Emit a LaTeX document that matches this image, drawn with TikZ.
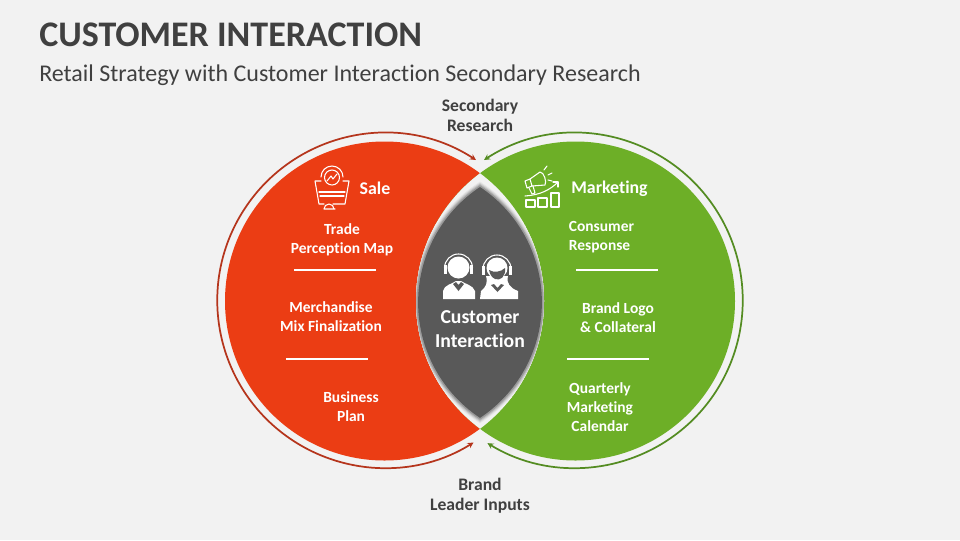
\documentclass[tikz,border=0pt]{standalone}
\usepackage{fontspec}
\setmainfont[Ligatures=CommonOff]{Carlito}
\usetikzlibrary{arrows.meta}
\definecolor{salered}{HTML}{EB3D14}
\definecolor{salearc}{HTML}{B5351C}
\definecolor{markgreen}{HTML}{6DAF27}
\definecolor{markarc}{HTML}{548C22}
\definecolor{lensgray}{HTML}{595959}
\definecolor{textgray}{HTML}{404040}
\definecolor{pagegray}{HTML}{F2F2F2}
\newcommand{\lenspath}{(480,187) arc[start angle=-56.4,end angle=56.4,radius=138.6] arc[start angle=123.6,end angle=236.4,radius=138.6] -- cycle}
\begin{document}
\begin{tikzpicture}[x=0.75pt,y=-0.75pt]
	\tikzstyle{every node}=[align=center,inner sep=0pt];
	\tikzstyle{bodytext}=[text=white,font=\fontsize{11.6pt}{14.3pt}\selectfont\bfseries];
	\tikzstyle{headtext}=[text=white,font=\fontsize{13.4pt}{15pt}\selectfont\bfseries];
	\tikzstyle{sidetext}=[text=textgray,font=\fontsize{13.2pt}{15.4pt}\selectfont\bfseries];
	\tikzstyle{sepline}=[draw=white,line width=1.1pt];
	\tikzstyle{iconline}=[draw=white,line width=0.8pt,line cap=round,line join=round];
	\tikzstyle{arcline}=[line width=1.3pt,{Stealth[length=4.5pt,width=4.5pt]}-{Stealth[length=4.5pt,width=4.5pt]}];
	\fill[pagegray] (0,0) rectangle (960,540);
	\useasboundingbox (0,0) rectangle (960,540);
	% titles
	\node[anchor=west,text=textgray,font=\fontsize{27pt}{30pt}\selectfont\bfseries] (title) at (39,35) {CUSTOMER INTERACTION};
	\node[anchor=west,text=textgray,font=\fontsize{18pt}{22pt}\selectfont] (subtitle) at (39,75) {Retail Strategy with Customer Interaction Secondary Research};
	% circles
	\fill[salered] (384.5,301) circle (159.5);
	\fill[markgreen] (575.5,301) circle (159.5);
	\begin{scope}
		\clip (384.5,301) circle (159.5);
		\clip (575.5,301) circle (159.5);
		\fill[pagegray] (300,100) rectangle (660,500);
		% middle lens
		\foreach \w/\c in {11/5,9/10,7/18,5/28,3/40}{
			\draw[draw=black!\c,line width=\w*0.75pt,line join=miter] \lenspath;
		}
	\end{scope}
	\fill[lensgray] \lenspath;
	% outer arcs
	\coordinate (saletop) at (476,160);
	\coordinate (marktop) at (484,160);
	\draw[arcline,draw=salearc] (saletop) arc[start angle=-57,end angle=-302,radius=167.5];
	\draw[arcline,draw=markarc] (marktop) arc[start angle=237,end angle=481.6,radius=167.5];
	% sale side
	\node[headtext] (sale) at (375,188.5) {Sale};
	\node[bodytext] (trade) at (342,240) {Trade\\Perception Map};
	\node[bodytext] (merch) at (331,316.5) {Merchandise\\Mix Finalization};
	\node[bodytext] (plan) at (351,406.5) {Business\\Plan};
	\coordinate (s1a) at (294,270);
	\coordinate (s1b) at (376,270);
	\coordinate (s2a) at (286,359);
	\coordinate (s2b) at (368,359);
	\draw[sepline] (s1a) -- (s1b);
	\draw[sepline] (s2a) -- (s2b);
	% marketing side
	\node[headtext] (marketing) at (609.5,188.5) {Marketing};
	\node[bodytext,align=left] (consumer) at (601.5,237.5) {Consumer\\Response};
	\node[bodytext] (logo) at (618,318) {Brand Logo\\\& Collateral};
	\node[bodytext] (calendar) at (600,407.5) {Quarterly\\Marketing\\Calendar};
	\coordinate (m1a) at (576,270);
	\coordinate (m1b) at (658,270);
	\coordinate (m2a) at (567,359);
	\coordinate (m2b) at (649,359);
	\draw[sepline] (m1a) -- (m1b);
	\draw[sepline] (m2a) -- (m2b);
	% middle and outside labels
	\node[text=white,font=\fontsize{14.8pt}{17.8pt}\selectfont\bfseries] (customer) at (480,329) {Customer\\Interaction};
	\node[sidetext] (secondary) at (480,115.5) {Secondary\\Research};
	\node[sidetext] (brand) at (480,495.5) {Brand\\Leader Inputs};
	% sale icon
	\draw[iconline] (332,177.5) circle (7.5);
	\draw[iconline] (321,177) arc[start angle=180,end angle=360,radius=11];
	\draw[iconline] (327,181) -- (331,176) -- (333,179) -- (337,174);
	\draw[iconline] (321,181) -- (315,181) -- (319,204) -- (324,204);
	\draw[iconline] (343,181) -- (349,181) -- (345,204) -- (333,204);
	\draw[iconline] (319,192) -- (345,192);
	\draw[iconline] (320,196) -- (344,196);
	\draw[iconline] (324,209) arc[start angle=180,end angle=360,radius=5] (324,209) -- (335,209);
	% marketing icon
	\draw[iconline] (526,200) rectangle (535,207);
	\draw[iconline] (538,198) rectangle (547,207);
	\draw[iconline] (551,193) rectangle (559,207);
	\draw[iconline] (525,196) .. controls (540,195) and (550,190) .. (558,182);
	\draw[iconline] (553,182) -- (558,182) -- (558,187);
	\draw[iconline] (525,181) -- (530,179) -- (532,186) -- (527,188) -- cycle;
	\draw[iconline] (530,179) -- (540,172) .. controls (544,172) and (547,182) .. (545,185) -- (532,186);
	\draw[iconline] (529,188) -- (532,194) -- (535,193) -- (533,186);
	\draw[iconline] (544,170) -- (547,166);
	\draw[iconline] (548,175) -- (552,173);
	\draw[iconline] (548,180) -- (552,181);
	% agents icon
	\fill[white] (458.5,267.5) circle (11);
	\fill[white] (443,299) -- (443,291) .. controls (444,285) and (452,284) .. (456,281) -- (461,281) .. controls (465,284) and (473,285) .. (475,291) -- (475,299) -- cycle;
	\fill[lensgray] (453,284) -- (458.5,291) -- (464,284) -- (461,282) -- (458.5,285) -- (456,282) -- cycle;
	\draw[white,line width=0.8pt] (444.5,268) arc[start angle=180,end angle=360,radius=14];
	\fill[white] (444,265) rectangle (447,274);
	\fill[white] (470,265) rectangle (473,274);
	\fill[white] (497,268) circle (10.5);
	\fill[white] (480,299) -- (481,291) .. controls (486,287) and (488,283) .. (486,276) -- (508,276) .. controls (506,283) and (510,288) .. (518,291) -- (518,299) -- cycle;
	\fill[lensgray] (489,270) .. controls (494,273) and (501,272) .. (505,268) .. controls (506,277) and (500,281) .. (495,279) .. controls (491,277) and (490,274) .. (489,270) -- cycle;
	\fill[lensgray] (491,285) -- (497.5,292) -- (504,285) -- (501,284) -- (497.5,288) -- (494,284) -- cycle;
	\draw[white,line width=0.8pt] (483,269) arc[start angle=180,end angle=360,radius=14];
	\fill[white] (482,266) rectangle (485,275);
	\fill[white] (509,266) rectangle (512,275);
\end{tikzpicture}
\end{document}
